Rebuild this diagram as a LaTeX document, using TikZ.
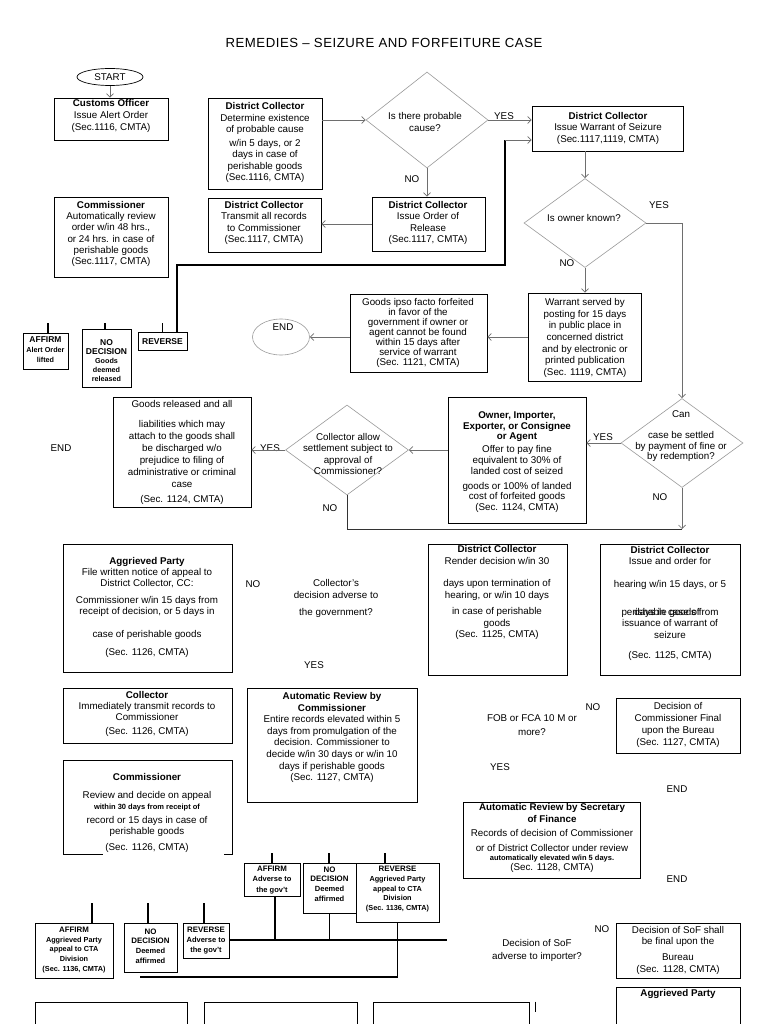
\documentclass[tikz,border=0pt]{standalone}
\usepackage{fontspec}
\setmainfont{Liberation Sans}
\usetikzlibrary{shapes.geometric,arrows.meta}
\definecolor{arrgray}{HTML}{6E6E6E}
\definecolor{diagray}{HTML}{9A9A9A}
\newcommand\mybox[5]{%
 \pgfmathsetmacro\myCX{(#2+#4)/2}%
 \pgfmathsetmacro\myCY{(#3+#5)/2}%
 \pgfmathsetmacro\myW{#4-#2}%
 \pgfmathsetmacro\myH{#5-#3}%
 \node[box,minimum width=\myW pt,minimum height=\myH pt] (#1) at (\myCX,\myCY) {};}
\newcommand\fs[2]{\fontsize{#1}{#2}\selectfont}
\begin{document}
\begin{tikzpicture}[x=1pt,y=-1pt,
 box/.style={draw=black,line width=0.9pt,inner sep=0pt},
 txt/.style={align=center,inner sep=0pt,font=\fs{9.8}{11.5}},
 sml/.style={align=center,inner sep=0pt,font=\fs{7.5}{9.7}\bfseries},
 lbl/.style={inner sep=0pt,font=\fs{9.8}{11.5}},
 arr/.style={draw=arrgray,line width=0.7pt,-{Straight Barb[length=3.5pt,width=7pt]}},
 ln/.style={draw=black,line width=1.1pt},
 dk/.style={draw=black!80,line width=0.8pt},
 dia/.style={draw=diagray,line width=0.6pt,diamond,inner sep=0pt}]
\useasboundingbox (0,0) rectangle (768,1024);
\clip (0,0) rectangle (768,1024);
\fill[white] (0,0) rectangle (768,1024);

\node[font=\fs{13.2}{15}\addfontfeature{LetterSpace=4}] (title) at (384,43) {REMEDIES – SEIZURE AND FORFEITURE CASE};

\node[draw=black,line width=0.7pt,ellipse,minimum width=66pt,minimum height=17pt,inner sep=0pt,font=\fs{9.8}{11.5}] (start) at (110,77) {START};

% boxes
\mybox{co}{54}{98}{168}{140}
\mybox{det}{208}{98}{322}{189}
\mybox{tr}{208}{198}{321}{252}
\mybox{rel}{372}{197}{485}{251}
\mybox{com}{54}{197}{168}{277}
\mybox{aff1}{23}{333}{68}{369}
\mybox{nod1}{82}{329}{131}{387}
\mybox{rev1}{138}{332}{187}{350}
\mybox{ws}{532}{106}{683}{151}
\mybox{wsv}{528}{293}{641}{381}
\mybox{gi}{350}{294}{487}{372}
\mybox{gr}{113}{397}{251}{507}
\mybox{own}{448}{397}{586}{523}
\mybox{ag}{63}{544}{232}{672}
\mybox{ren}{428}{544}{567}{675}
\mybox{iss}{600}{544}{740}{675}
\mybox{col}{63}{688}{232}{743}
\mybox{arc}{247}{688}{417}{802}
\mybox{cr}{63}{760}{232}{854}
\mybox{dcf}{616}{698}{740}{753}
\mybox{sec}{463}{802}{640}{878}
\mybox{aff2}{244}{863}{300}{896}
\mybox{nod2}{303}{863}{356}{913}
\mybox{rev2}{356}{863}{439}{922}
\mybox{aff3}{35}{923}{113}{978}
\mybox{nod3}{124}{923}{177}{972}
\mybox{rev3}{183}{923}{229}{958}
\mybox{sof}{616}{923}{740}{978}
\mybox{agp}{616}{987}{740}{1040}
\mybox{b1}{35}{1002}{187}{1040}
\mybox{b2}{204}{1002}{357}{1040}
\mybox{b3}{373}{1002}{529}{1040}
\fill[white] (103,851) rectangle (224,857);

% diamonds and end ellipse
\node[dia,minimum width=122pt,minimum height=96pt] (pc) at (427,120) {};
\node[dia,minimum width=122pt,minimum height=89pt] (ok) at (585,223) {};
\node[dia,minimum width=123pt,minimum height=90pt] (ca) at (347,450) {};
\node[dia,minimum width=122pt,minimum height=89pt] (can) at (682,443) {};
\node[draw=diagray,line width=0.6pt,ellipse,minimum width=57pt,minimum height=36pt,inner sep=0pt] (endE) at (281,337) {};

% texts
\node[txt,font=\fs{9.8}{12}] (t-co) at (111,116) {\textbf{Customs Officer}\\Issue Alert Order\\(Sec.1116, CMTA)};
\node[txt] (t-det) at (265,142.5) {\textbf{District Collector}\\Determine existence\\of probable cause\\[2pt]w/in 5 days, or 2\\days in case of\\perishable goods\\(Sec.1116, CMTA)};
\node[txt,font=\fs{9.8}{11.4}] (t-tr) at (264,223) {\textbf{District Collector}\\Transmit all records\\to Commissioner\\(Sec.1117, CMTA)};
\node[txt,font=\fs{9.8}{11.4}] (t-rel) at (428,223) {\textbf{District Collector}\\Issue Order of\\Release\\(Sec.1117, CMTA)};
\node[txt] (t-pc) at (425,122) {Is there probable\\cause?};
\node[txt,font=\fs{9.8}{11.2}] (t-com) at (111,234) {\textbf{Commissioner}\\Automatically review\\order w/in 48 hrs.,\\or 24 hrs. in case of\\perishable goods\\(Sec.1117, CMTA)};
\node[sml,font=\fs{7.2}{10}\bfseries] (t-aff1) at (45.5,350) {{\fs{8.5}{10}AFFIRM}\\Alert Order\\lifted};
\node[sml,font=\fs{7.2}{9}\bfseries] (t-nod1) at (106.5,361) {{\fs{8.5}{9}NO}\\{\fs{8.5}{9}DECISION}\\Goods\\deemed\\released};
\node[sml,font=\fs{8.5}{10}\bfseries] (t-rev1) at (162.5,341.5) {REVERSE};
\node[txt] (t-ws) at (608,128) {\textbf{District Collector}\\Issue Warrant of Seizure\\(Sec.1117,1119, CMTA)};
\node[txt] (t-ok) at (584,218) {Is owner known?};
\node[txt,font=\fs{9.8}{11.7}] (t-wsv) at (585,338) {Warrant served by\\posting for 15 days\\in public place in\\concerned district\\and by electronic or\\printed publication\\(Sec. 1119, CMTA)};
\node[txt,font=\fs{9.8}{10.1}] (t-gi) at (418,333) {Goods ipso facto forfeited\\in favor of the\\government if owner or\\agent cannot be found\\within 15 days after\\service of warrant\\(Sec. 1121, CMTA)};
\node[lbl] (t-end1) at (283,327) {END};
\node[txt,font=\fs{9.8}{12}] (t-gr) at (182,452) {Goods released and all\\[8pt]liabilities which may\\attach to the goods shall\\be discharged w/o\\prejudice to filing of\\administrative or criminal\\case\\[3pt](Sec. 1124, CMTA)};
\node[txt,font=\fs{9.8}{11.3}] (t-ca) at (348,454) {Collector allow\\settlement subject to\\approval of\\Commissioner?};
\node[txt,font=\fs{9.8}{10.8}] (t-own) at (517,462) {\textbf{Owner, Importer,}\\\textbf{Exporter, or Consignee}\\\textbf{or Agent}\\[2pt]Offer to pay fine\\equivalent to 30\% of\\landed cost of seized\\[4pt]goods or 100\% of landed\\cost of forfeited goods\\(Sec. 1124, CMTA)};
\node[txt,font=\fs{9.8}{10.5}] (t-can) at (681,436) {Can\\[11pt]case be settled\\by payment of fine or\\by redemption?};
\node[txt,font=\fs{9.8}{11}] (t-ag) at (147,607.5) {\textbf{Aggrieved Party}\\File written notice of appeal to\\District Collector, CC:\\[6pt]Commissioner w/in 15 days from\\receipt of decision, or 5 days in\\[12pt]case of perishable goods\\[7pt](Sec. 1126, CMTA)};
\node[txt,font=\fs{9.8}{12}] (t-cd) at (336,598.5) {Collector's\\decision adverse to\\[5pt]the government?};
\node[txt] (t-ren) at (497,592.5) {\textbf{District Collector}\\Render decision w/in 30\\[11pt]days upon termination of\\hearing, or w/in 10 days\\[5pt]in case of perishable\\goods\\(Sec. 1125, CMTA)};
\node[txt] (t-iss) at (670,603) {\textbf{District Collector}\\Issue and order for\\[11pt]hearing w/in 15 days, or 5\\[16.5pt]perishable goods from\\issuance of warrant of\\seizure\\[8.5pt](Sec. 1125, CMTA)};
\node[txt] (t-iss2) at (667,612.5) {days in case of};
\node[txt,font=\fs{9.8}{11}] (t-col) at (147,714) {\textbf{Collector}\\Immediately transmit records to\\Commissioner\\[3pt](Sec. 1126, CMTA)};
\node[txt,font=\fs{9.8}{11.6}] (t-arc) at (332,737.5) {\textbf{Automatic Review by}\\\textbf{Commissioner}\\Entire records elevated within 5\\days from promulgation of the\\decision. Commissioner to\\decide w/in 30 days or w/in 10\\days if perishable goods\\(Sec. 1127, CMTA)};
\node[txt] (t-cr) at (147,813) {\textbf{Commissioner}\\[6.5pt]Review and decide on appeal\\{\fs{7.5}{11.5}\bfseries within 30 days from receipt of}\\[2pt]record or 15 days in case of\\perishable goods\\[4.5pt](Sec. 1126, CMTA)};
\node[txt,font=\fs{9.8}{12}] (t-dcf) at (678,725) {Decision of\\Commissioner Final\\upon the Bureau\\(Sec. 1127, CMTA)};
\node[txt,font=\fs{9.8}{11}] (t-sec) at (552,838) {\textbf{Automatic Review by Secretary}\\[1pt]\textbf{of Finance}\\[3pt]Records of decision of Commissioner\\[4pt]or of District Collector under review\\[-2pt]{\fs{7.5}{11}\bfseries automatically elevated w/in 5 days.}\\[-1pt](Sec. 1128, CMTA)};
\node[txt] (t-fob) at (532,725) {FOB or FCA 10 M or\\[2.5pt]more?};
\node[sml,font=\fs{7.5}{10.5}\bfseries] (t-aff2) at (272,880) {{\fs{7.9}{10.5}AFFIRM}\\Adverse to\\the gov't};
\node[sml] (t-nod2) at (329.5,884) {{\fs{7.9}{9.7}NO}\\{\fs{7.9}{9.7}DECISION}\\Deemed\\affirmed};
\node[sml,font=\fs{7.3}{9.75}\bfseries] (t-rev2) at (397.5,889) {{\fs{7.9}{9.75}REVERSE}\\Aggrieved Party\\appeal to CTA\\Division\\(Sec. 1136, CMTA)};
\node[sml,font=\fs{7.3}{9.75}\bfseries] (t-aff3) at (74,950) {{\fs{7.9}{9.75}AFFIRM}\\Aggrieved Party\\appeal to CTA\\Division\\(Sec. 1136, CMTA)};
\node[sml] (t-nod3) at (150.5,946) {{\fs{7.9}{9.7}NO}\\{\fs{7.9}{9.7}DECISION}\\Deemed\\affirmed};
\node[sml,font=\fs{7.5}{10}\bfseries] (t-rev3) at (206,941) {{\fs{7.9}{10}REVERSE}\\Adverse to\\the gov't};
\node[txt,font=\fs{9.8}{11.5}] (t-sof) at (678,950) {Decision of SoF shall\\be final upon the\\[4.5pt]Bureau\\(Sec. 1128, CMTA)};
\node[txt,font=\fs{9.8}{11.5}] (t-sofq) at (537,950) {Decision of SoF\\[1.5pt]adverse to importer?};
\node[txt] (t-agp) at (678,994) {\textbf{Aggrieved Party}};

% labels
\node[lbl] (l1) at (504,116) {YES};
\node[lbl] (l2) at (412,179) {NO};
\node[lbl] (l3) at (659,205) {YES};
\node[lbl] (l4) at (567,263) {NO};
\node[lbl] (l5) at (61,448) {END};
\node[lbl] (l6) at (270,448) {YES};
\node[lbl] (l7) at (330,508) {NO};
\node[lbl] (l8) at (603,437) {YES};
\node[lbl] (l9) at (660,497) {NO};
\node[lbl] (l10) at (253,584) {NO};
\node[lbl] (l11) at (314,665) {YES};
\node[lbl] (l12) at (593,707) {NO};
\node[lbl] (l13) at (500,767) {YES};
\node[lbl] (l14) at (677,789) {END};
\node[lbl] (l15) at (677,879) {END};
\node[lbl] (l16) at (602,929) {NO};

% arrows
\draw[arr] (start.south) -- (start.south |- co.north);
\draw[arr] (det.east |- pc.west) -- (pc.west);
\draw[arr] (pc.east) -- (pc.east -| ws.west);
\draw[arr] (pc.south) -- (pc.south |- rel.north);
\draw[arr] (rel.west) -- (rel.west -| tr.east);
\draw[arr] (ok.north |- ws.south) -- (ok.north);
\draw[arr] (ok.east) -| (can.north);
\draw[arr] (ok.south) -- (ok.south |- wsv.north);
\draw[arr] (wsv.west) -- (wsv.west -| gi.east);
\draw[arr] (gi.west |- endE.east) -- (endE.east);
\draw[arr] (can.west) -- (can.west -| own.east);
\draw[arr] (own.west |- ca.east) -- (ca.east);
\draw[arr] (ca.west) -- (ca.west -| gr.east);
\coordinate (j1) at (682,529);
\draw[dk] (ca.south) |- (j1);
\draw[arr] (can.south) -- (j1);

% reverse loop
\coordinate (rl1) at (177,265);
\coordinate (rl2) at (505,140);
\draw[ln] ([xshift=14.5pt]rev1.north) -- (rl1) -| (rl2);
\draw[arr] (rl2) -- (rl2 -| ws.west);

% ticks
\draw[ln] ([xshift=2.5pt]aff1.north) -- ++(0,-10);
\draw[ln] ([xshift=-1.5pt]nod1.north) -- ++(0,-6);
\draw[ln] (rev1.north) -- ++(0,-9);
\draw[ln] (aff2.north) -- ++(0,-10);
\draw[ln] ([xshift=-0.5pt]nod2.north) -- ++(0,-10);
\draw[ln] ([xshift=-12.5pt]rev2.north) -- ++(0,-10);
\draw[ln] ([xshift=18pt]aff3.north) -- ++(0,-20);
\draw[ln] ([xshift=-2.5pt]nod3.north) -- ++(0,-20);
\draw[ln] ([xshift=-2pt]rev3.north) -- ++(0,-20);
\draw[ln] ([xshift=6pt]b3.north east) -- ++(0,10);

% lower connectors
\coordinate (hr) at (447,940);
\draw[ln] (rev3.east |- hr) -- (hr);
\draw[ln] ([xshift=3pt]aff2.south) -- ([xshift=3pt]aff2.south |- hr);
\draw[ln] (nod2.south) -- (nod2.south |- hr);
\coordinate (hl) at (140,977);
\draw[ln] (rev2.south) |- (hl);
\end{tikzpicture}
\end{document}
